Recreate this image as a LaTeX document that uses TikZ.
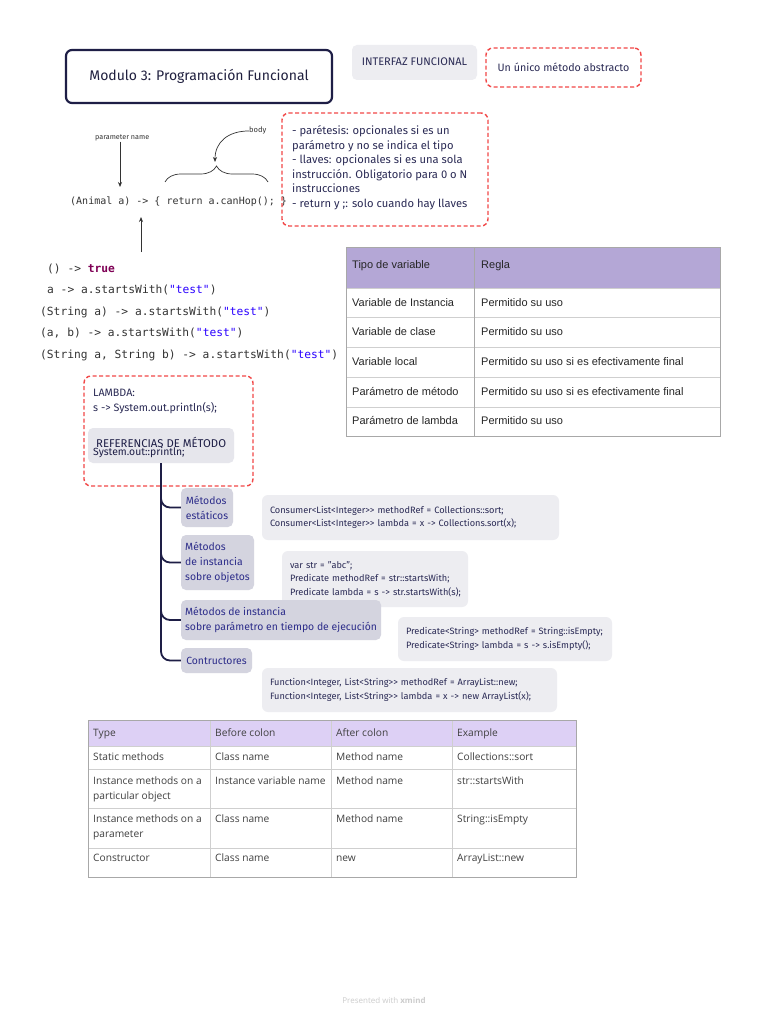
\documentclass[tikz,border=0pt]{standalone}
\usepackage{fontspec}
\setmainfont{Fira Sans}
\newfontfamily\monof{DejaVu Sans Mono}
\newfontfamily\arialf{Liberation Sans}
\newfontfamily\opensf{Open Sans}
\usetikzlibrary{decorations.pathreplacing,arrows.meta}
\definecolor{navy}{HTML}{1E1E46}
\definecolor{titletext}{HTML}{20203F}
\definecolor{grayA}{HTML}{EDEDF1}
\definecolor{grayB}{HTML}{E6E6EC}
\definecolor{redd}{HTML}{F24848}
\definecolor{methfill}{HTML}{D4D4DF}
\definecolor{methtext}{HTML}{2D2D8A}
\definecolor{codefill}{HTML}{EDEDF1}
\definecolor{codetext}{HTML}{2A2A55}
\definecolor{hdrA}{HTML}{B4A7D6}
\definecolor{hdrB}{HTML}{DDD0F5}
\definecolor{tline}{HTML}{A8A8A8}
\definecolor{tlinel}{HTML}{CFCFCF}
\definecolor{kw}{HTML}{7F0055}
\definecolor{strc}{HTML}{2A00FF}
\definecolor{codeg}{HTML}{333333}
\definecolor{notetext}{HTML}{2B2B55}
\begin{document}
\begin{tikzpicture}[x=1pt,y=-1pt,
  txt/.style={anchor=base west, inner sep=0pt},
  redbox/.style={draw=redd, dash pattern=on 4pt off 2.5pt, line width=1.4pt, rounded corners=7pt},
  graybox/.style={fill=grayA, rounded corners=5pt},
  meth/.style={fill=methfill, rounded corners=5pt, text=methtext, font=\fontsize{10.4}{15}\selectfont, align=left, inner xsep=4pt, inner ysep=0pt, anchor=center},
  codebox/.style={fill=codefill, rounded corners=6pt, text=codetext, font=\fontsize{9.2}{13.3}\selectfont, align=left, inner xsep=8pt, inner ysep=0pt, anchor=center},
  branch/.style={draw=navy, line width=1.8pt, rounded corners=9pt},
  arr/.style={draw=codeg, line width=0.7pt, -{Stealth[length=5pt,width=4pt]}},
  note/.style={txt, text=notetext, font=\fontsize{11.2}{14}\selectfont},
  code/.style={txt, text=codeg, font=\monof\fontsize{11.25}{13}\selectfont},
  rt/.style={txt, text=black!85, font=\arialf\fontsize{11}{12}\selectfont},
  bt/.style={txt, text=black!75, font=\opensf\fontsize{10.2}{12}\selectfont},
]
\useasboundingbox (0,0) rectangle (768,1024);
\fill[white] (0,0) rectangle (768,1024);

% --- top row
\node[draw=navy, line width=2.2pt, rounded corners=6pt, minimum width=266pt, minimum height=53pt,
      text=titletext, font=\fontsize{14}{16}\selectfont] (title) at (199,76.5) {Modulo 3: Programación Funcional};
\node[graybox, minimum width=125pt, minimum height=35pt] (iface) at (414.5,62.5) {};
\node[text=notetext, font=\fontsize{11}{12}\selectfont, inner sep=0pt] (ifacet) at (414.5,62) {INTERFAZ FUNCIONAL};
\node[redbox, minimum width=155pt, minimum height=39pt, text=notetext, font=\fontsize{10.7}{13}\selectfont] (abs) at (563.5,67.5) {Un único método abstracto};

% --- lambda anatomy
\node[txt, text=codeg, font=\fontsize{7.2}{9}\selectfont] (pname) at (95,140) {parameter name};
\node[txt, text=codeg, font=\fontsize{7.6}{9}\selectfont] (body) at (249,133) {body};
\node[txt, text=codeg, font=\monof\fontsize{10}{12}\selectfont] (animal) at (70,205) {(Animal a) -> \{ return a.canHop(); \}};
\coordinate (pnametip) at (120,187);
\coordinate (bracetip) at (215,162);
\coordinate (arrowtip) at (141,217);
\coordinate (arrowbase) at (141,252);
\draw[arr] (pname.south -| pnametip) -- (pnametip);
\draw[arr] (body.west) .. controls (228,131) and (215,142) .. (bracetip);
\draw[arr] (arrowbase) -- (arrowtip);
\draw[codeg, line width=0.7pt, decorate, decoration={brace, amplitude=16pt}] (165,182) -- (268,182);

% --- notes box
\node[redbox, minimum width=206pt, minimum height=113pt] (notes) at (385,169.5) {};
\node[note] (n1) at (292,134.7) {- parétesis: opcionales si es un};
\node[note] (n2) at (292,149.2) {parámetro y no se indica el tipo};
\node[note] (n3) at (292,163.7) {- llaves: opcionales si es una sola};
\node[note] (n4) at (292,178.2) {instrucción. Obligatorio para 0 o N};
\node[note] (n5) at (292,192.7) {instrucciones};
\node[note] (n6) at (292,207.2) {- return y ;: solo cuando hay llaves};

% --- code lines
\node[code] (c1) at (47,272) {() -> \textcolor{kw}{\bfseries true}};
\node[code] (c2) at (47,293) {a -> a.startsWith(\textcolor{strc}{"test"})};
\node[code] (c3) at (40,315) {(String a) -> a.startsWith(\textcolor{strc}{"test"})};
\node[code] (c4) at (40,336) {(a, b) -> a.startsWith(\textcolor{strc}{"test"})};
\node[code] (c5) at (40,358) {(String a, String b) -> a.startsWith(\textcolor{strc}{"test"})};

% --- right table
\fill[hdrA] (346,247) rectangle (720,288);
\draw[tlinel, line width=0.8pt] (346,288) -- (720,288) (346,317) -- (720,317) (346,347) -- (720,347) (346,377) -- (720,377) (346,407) -- (720,407);
\draw[tline, line width=0.9pt] (474,247) -- (474,436);
\draw[tline, line width=1pt] (346,247) rectangle (720,436);
\node[rt] (r0a) at (352,268) {Tipo de variable};
\node[rt] (r0b) at (481,268) {Regla};
\node[rt] (r1a) at (352,306) {Variable de Instancia};
\node[rt] (r1b) at (481,306) {Permitido su uso};
\node[rt] (r2a) at (352,335) {Variable de clase};
\node[rt] (r2b) at (481,335) {Permitido su uso};
\node[rt] (r3a) at (352,365) {Variable local};
\node[rt] (r3b) at (481,365) {Permitido su uso si es efectivamente final};
\node[rt] (r4a) at (352,395) {Parámetro de método};
\node[rt] (r4b) at (481,395) {Permitido su uso si es efectivamente final};
\node[rt] (r5a) at (352,424) {Parámetro de lambda};
\node[rt] (r5b) at (481,424) {Permitido su uso};

% --- lambda / references box
\node[redbox, minimum width=169pt, minimum height=110pt] (lam) at (168.5,431) {};
\node[note, font=\fontsize{10.7}{14}\selectfont] (l1) at (93,396.7) {LAMBDA:};
\node[note, font=\fontsize{10.7}{14}\selectfont] (l2) at (93,411.7) {s -> System.out.println(s);};
\node[graybox, fill=grayB, minimum width=146pt, minimum height=35pt] (ref) at (161,445.5) {};
\node[note, text=navy, font=\fontsize{11.3}{14}\selectfont] (reft) at (96,447.9) {REFERENCIAS DE MÉTODO};
\node[note, text=navy, font=\fontsize{10.4}{14}\selectfont] (sysout) at (93,455.5) {System.out::println;};

% --- code boxes
\node[codebox, minimum width=297pt, minimum height=45pt, text width=281pt] (cbA) at (410.5,517.5)
  {\mbox{Consumer<List<Integer>{}> methodRef = Collections::sort;}\\\mbox{Consumer<List<Integer>{}> lambda = x -> Collections.sort(x);}};
\node[codebox, minimum width=186pt, minimum height=56pt, text width=170pt] (cbB) at (375,579)
  {\mbox{var str = "abc";}\\\mbox{Predicate methodRef = str::startsWith;}\\\mbox{Predicate lambda = s -> str.startsWith(s);}};
\node[codebox, minimum width=214pt, minimum height=44pt, text width=198pt] (cbC) at (505,639)
  {\mbox{Predicate<String> methodRef = String::isEmpty;}\\\mbox{Predicate<String> lambda = s -> s.isEmpty();}};
\node[codebox, minimum width=295pt, minimum height=44pt, text width=279pt] (cbD) at (409.5,690)
  {\mbox{Function<Integer, List<String>{}> methodRef = ArrayList::new;}\\\mbox{Function<Integer, List<String>{}> lambda = x -> new ArrayList(x);}};

% --- method nodes
\node[meth, minimum width=52pt, minimum height=39pt] (m1) at (207,507.5) {Métodos\\estáticos};
\node[meth, minimum width=73pt, minimum height=55pt] (m2) at (217.5,562.5) {Métodos\\de instancia\\sobre objetos};
\node[meth, minimum width=200pt, minimum height=40pt] (m3) at (281,620) {Métodos de instancia\\sobre parámetro en tiempo de ejecución};
\node[meth, minimum width=71pt, minimum height=25pt] (m4) at (216.5,660.5) {Contructores};

% --- tree branches
\coordinate (trunk) at (ref.south);
\draw[branch] (trunk) |- (m1.west);
\draw[branch] (trunk) |- (m2.west);
\draw[branch] (trunk) |- (m3.west);
\draw[branch] (trunk) |- (m4.west);

% --- bottom table
\fill[hdrB] (88,720) rectangle (576,746);
\draw[tlinel, line width=0.8pt] (88,746) -- (576,746) (88,769) -- (576,769) (88,808) -- (576,808) (88,848) -- (576,848);
\draw[tlinel, line width=0.8pt] (210,720) -- (210,877) (331,720) -- (331,877) (452,720) -- (452,877);
\draw[tline, line width=1pt] (88,720) rectangle (576,877);
\node[bt] (b0a) at (93,736.5) {Type};
\node[bt] (b0b) at (215,736.5) {Before colon};
\node[bt] (b0c) at (336,736.5) {After colon};
\node[bt] (b0d) at (457,736.5) {Example};
\node[bt] (b1a) at (93,760.5) {Static methods};
\node[bt] (b1b) at (215,760.5) {Class name};
\node[bt] (b1c) at (336,760.5) {Method name};
\node[bt] (b1d) at (457,760.5) {Collections::sort};
\node[bt] (b2a) at (93,784.5) {Instance methods on a};
\node[bt] (b2e) at (93,799.5) {particular object};
\node[bt] (b2b) at (215,784.5) {Instance variable name};
\node[bt] (b2c) at (336,784.5) {Method name};
\node[bt] (b2d) at (457,784.5) {str::startsWith};
\node[bt] (b3a) at (93,822.5) {Instance methods on a};
\node[bt] (b3e) at (93,837.5) {parameter};
\node[bt] (b3b) at (215,822.5) {Class name};
\node[bt] (b3c) at (336,822.5) {Method name};
\node[bt] (b3d) at (457,822.5) {String::isEmpty};
\node[bt] (b4a) at (93,861.5) {Constructor};
\node[bt] (b4b) at (215,861.5) {Class name};
\node[bt] (b4c) at (336,861.5) {new};
\node[bt] (b4d) at (457,861.5) {ArrayList::new};

% --- footer
\node[text=black!20, font=\opensf\fontsize{8}{10}\selectfont, inner sep=0pt] (footer) at (384,1000) {Presented with \textbf{xmind}};
\end{tikzpicture}
\end{document}
